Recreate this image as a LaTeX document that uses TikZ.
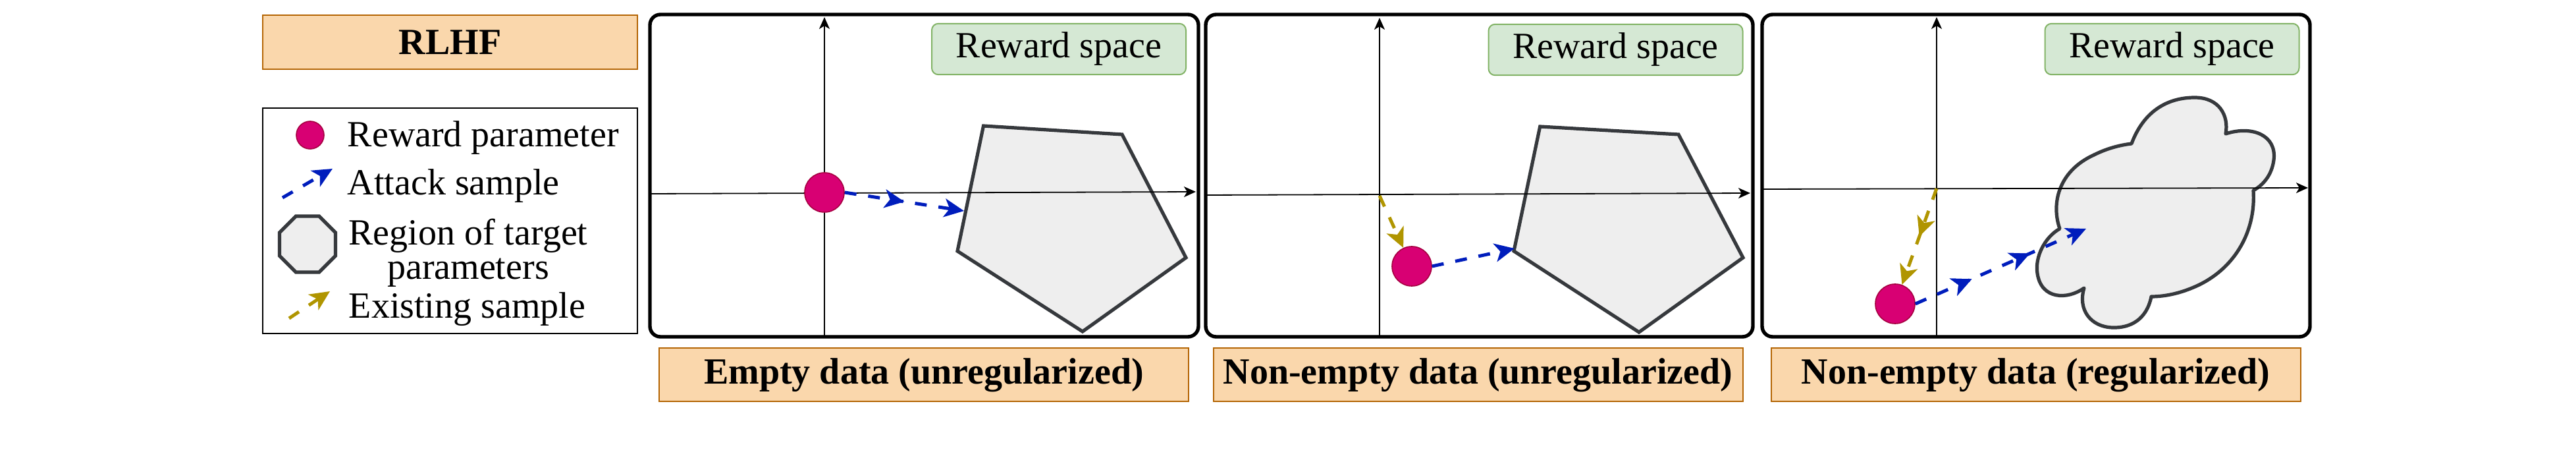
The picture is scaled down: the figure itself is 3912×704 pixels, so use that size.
\documentclass[tikz,border=0pt]{standalone}
\usepackage{fontspec}
\setmainfont{Liberation Serif}
\usetikzlibrary{arrows.meta,decorations.markings,shapes.geometric}

\definecolor{labelfill}{HTML}{FAD7AC}
\definecolor{labeldraw}{HTML}{B46504}
\definecolor{spacefill}{HTML}{D5E8D4}
\definecolor{spacedraw}{HTML}{82B366}
\definecolor{paramfill}{HTML}{D80073}
\definecolor{paramdraw}{HTML}{A50040}
\definecolor{attackblue}{HTML}{001DBC}
\definecolor{existgold}{HTML}{B09500}
\definecolor{regionfill}{HTML}{EEEEEE}
\definecolor{regiondraw}{HTML}{36393D}

\tikzset{
  sampletip/.tip={Stealth[length=7.5pt,width=7pt,inset=2pt]},
  labelbox/.style={draw=labeldraw,fill=labelfill,line width=0.5pt,minimum width=201pt,minimum height=20.25pt,font=\fontsize{14}{16}\selectfont\bfseries},
  spacebox/.style={draw=spacedraw,fill=spacefill,line width=0.5pt,rounded corners=2.5pt,minimum width=96.5pt,minimum height=17.75pt},
  panelframe/.style={draw=black,line width=1.35pt,rounded corners=4pt},
  axis/.style={line width=0.45pt,-{Stealth[length=4.5pt,width=4pt,inset=1.2pt]}},
  rparam/.style={circle,draw=paramdraw,fill=paramfill,line width=0.4pt,inner sep=0pt,minimum size=15pt},
  region/.style={draw=regiondraw,fill=regionfill,line width=1.3pt,line join=miter},
  attack/.style={draw=attackblue,line width=1.25pt,dash pattern=on 4.5pt off 4.5pt,-sampletip},
  existing/.style={draw=existgold,line width=1.25pt,dash pattern=on 4.5pt off 4.5pt,-sampletip},
  midtip/.style={decoration={markings,mark=at position #1 with {\arrow{sampletip}}},postaction={decorate}},
  legtext/.style={anchor=base west,inner sep=0pt}
}

\begin{document}
\begin{tikzpicture}[x=0.25pt,y=-0.25pt,font=\fontsize{14}{16}\selectfont]
\useasboundingbox (0,0) rectangle (3912,704);

% title and legend
\node[draw=labeldraw,fill=labelfill,line width=0.5pt,minimum width=142.25pt,minimum height=20.5pt,font=\fontsize{14}{16}\selectfont\bfseries] (rlhf) at (683.5,64) {RLHF};
\node[draw=black,line width=0.6pt,minimum width=142.25pt,minimum height=85.5pt] (legend) at (683.5,335) {};
\node[rparam,minimum size=10.5pt] (legparam) at (471,205) {};
\node[legtext] (legparamtxt) at (527,223) {Reward parameter};
\coordinate (legatkA) at (429,300);
\coordinate (legatkB) at (505,256);
\draw[attack] (legatkA) -- (legatkB);
\node[legtext] (legatktxt) at (527,296) {Attack sample};
\node[regular polygon,regular polygon sides=8,draw=regiondraw,fill=regionfill,line width=1.3pt,minimum size=23pt,inner sep=0pt] (legregion) at (467,370.5) {};
\node[align=center,anchor=north,inner sep=0pt,font=\fontsize{14}{13}\selectfont] (legregiontxt) at (711,331) {Region of target\\parameters};
\coordinate (legexA) at (439,483);
\coordinate (legexB) at (501,442);
\draw[existing] (legexA) -- (legexB);
\node[legtext] (legextxt) at (529,483) {Existing sample};

% panel 1: empty data
\draw[region] (1493.5,191) -- (1704,204) -- (1801,391) -- (1644,503) -- (1454,381) -- cycle;
\draw[panelframe] (987,22) rectangle (1820,511);
\draw[axis] (987,294) -- (1816,291);
\draw[axis] (1252,510) -- (1252,26);
\node[spacebox] (space1) at (1608,74.5) {Reward space};
\node[rparam] (circ1) at (1252,292) {};
\coordinate (hit1) at (1464,320);
\draw[attack,midtip=0.5] (circ1.east) -- (hit1);
\node[labelbox] (label1) at (1403,569) {Empty data (unregularized)};

% panel 2: non-empty data, unregularized
\draw[region] (2338.7,192) -- (2549,204) -- (2647,391) -- (2489,504) -- (2299,381) -- cycle;
\draw[panelframe] (1831,22) rectangle (2662,511);
\draw[axis] (1831,296) -- (2658,293);
\draw[axis] (2095,510) -- (2095,27);
\node[spacebox] (space2) at (2453.5,75.5) {Reward space};
\coordinate (o2) at (2095,297);
\node[rparam] (circ2) at (2144,404) {};
\coordinate (hit2) at (2300,377);
\draw[existing] (o2) -- (circ2);
\draw[attack] (circ2.east) -- (hit2);
\node[labelbox] (label2) at (2244.5,569) {Non-empty data (unregularized)};

% panel 3: non-empty data, regularized
\draw[region,line join=round] (3237,218) .. controls (3255,170) and (3290,148) .. (3333,148)
  .. controls (3370,148) and (3385,175) .. (3380,203)
  .. controls (3420,190) and (3458,205) .. (3453,243)
  .. controls (3450,265) and (3438,280) .. (3422,289)
  .. controls (3426,350) and (3395,405) .. (3340,432)
  .. controls (3315,444) and (3290,450) .. (3267,450)
  .. controls (3260,485) and (3235,498) .. (3208,497)
  .. controls (3175,496) and (3155,470) .. (3165,437)
  .. controls (3140,455) and (3100,455) .. (3094,415)
  .. controls (3090,390) and (3105,360) .. (3128,347)
  .. controls (3115,310) and (3125,260) .. (3180,235)
  .. controls (3200,225) and (3220,220) .. (3237,218) -- cycle;
\draw[panelframe] (2676,22) rectangle (3508,511);
\draw[axis] (2676,287) -- (3505,285);
\draw[axis] (2941,510) -- (2941,26);
\node[spacebox] (space3) at (3298.5,74.5) {Reward space};
\coordinate (o3) at (2941,286);
\node[rparam] (circ3) at (2878,461) {};
\coordinate (hit3) at (3168,347);
\draw[existing,midtip=0.5] (o3) -- (circ3);
\draw[attack,midtip=0.33,midtip=0.67] (circ3.east) -- (hit3);
\node[labelbox] (label3) at (3091.5,569) {Non-empty data (regularized)};
\end{tikzpicture}
\end{document}
